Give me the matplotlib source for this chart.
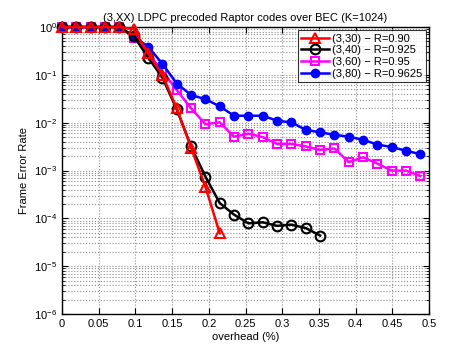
import numpy as np
import matplotlib
matplotlib.use('Agg')
import matplotlib.pyplot as plt
from matplotlib.ticker import LogLocator, NullFormatter

# overhead steps of 20 symbols over K=1024
step = 20 / 1024.0

fer_30 = [1, 1, 1, 1, 1, 0.9, 0.28, 0.1, 0.02, 0.003, 4.6e-4, 4.9e-5]
fer_40 = [1, 1, 1, 1, 1, 0.65, 0.23, 0.088, 0.019, 0.0032, 7.5e-4,
          2.1e-4, 1.2e-4, 7.9e-5, 8.3e-5, 7.0e-5, 7.4e-5, 6.3e-5, 4.4e-5]
fer_60 = [1, 1, 1, 1, 1, 0.6, 0.28, 0.12, 0.048, 0.020, 0.0093, 0.0102,
          0.0051, 0.0059, 0.0050, 0.0036, 0.0036, 0.0032, 0.0027, 0.0029,
          0.0015, 0.0019, 0.0014, 0.0010, 0.0010, 0.00077]
fer_80 = [1, 1, 1, 1, 1, 0.63, 0.39, 0.17, 0.066, 0.038, 0.031, 0.022,
          0.014, 0.014, 0.014, 0.011, 0.0102, 0.0071, 0.0063, 0.0056,
          0.0051, 0.0044, 0.0035, 0.0031, 0.0026, 0.0022]

labels = ['(3,30) \u2212 R=0.90', '(3,40) \u2212 R=0.925',
          '(3,60) \u2212 R=0.95', '(3,80) \u2212 R=0.9625']
xticks = np.arange(0, 0.5001, 0.05)
xticklabels = ['0', '0.05', '0.1', '0.15', '0.2', '0.25', '0.3', '0.35', '0.4', '0.45', '0.5']

plt.rcParams['font.family'] = 'Liberation Sans'
plt.rcParams['font.size'] = 8

fig = plt.figure(figsize=(4.74, 3.53), dpi=100)
ax = fig.add_axes([0.131, 0.110, 0.774, 0.8135])

def xs(vals):
    return np.arange(len(vals)) * step

ax.semilogy(xs(fer_30), fer_30, '-^', color='red', lw=1.8, ms=7,
            mfc='none', mew=1.5, label=labels[0], clip_on=False, zorder=5)
ax.semilogy(xs(fer_40), fer_40, '-o', color='black', lw=1.8, ms=7,
            mfc='none', mew=1.5, label=labels[1], clip_on=False, zorder=4)
ax.semilogy(xs(fer_60), fer_60, '-s', color='magenta', lw=1.8, ms=6,
            mfc='none', mew=1.5, label=labels[2], clip_on=False, zorder=3)
ax.semilogy(xs(fer_80), fer_80, '-o', color='blue', lw=1.8, ms=6,
            mfc='blue', mew=1, label=labels[3], clip_on=False, zorder=3.5)

ax.set_xlim(0, 0.5)
ax.set_ylim(1e-6, 1)
ax.set_xticks(xticks)
ax.set_xticklabels(xticklabels)
ax.yaxis.set_major_locator(LogLocator(base=10, numticks=10))
ax.yaxis.set_minor_locator(LogLocator(base=10, subs=np.arange(2, 10), numticks=20))
ax.yaxis.set_minor_formatter(NullFormatter())

ax.grid(True, which='major', linestyle=':', color='#909090', lw=0.8)
ax.grid(True, which='minor', axis='y', linestyle=':', color='#909090', lw=0.8)
ax.tick_params(which='both', direction='in', top=True, right=True)
ax.tick_params(which='major', length=4)
ax.tick_params(which='minor', length=2)
for s in ax.spines.values():
    s.set_linewidth(1.0)

ax.set_title('(3,XX) LDPC precoded Raptor codes over BEC (K=1024)', fontsize=8, pad=4)
ax.set_xlabel('overhead (%)', labelpad=2)
ax.set_ylabel('Frame Error Rate')

leg = ax.legend(loc='upper right', fontsize=8, fancybox=False, edgecolor='black',
                borderaxespad=0.3, handlelength=2.5, labelspacing=0.15,
                borderpad=0.3, handletextpad=0.3)
leg.get_frame().set_linewidth(0.8)
leg.set_zorder(10)

fig.savefig('out.png', dpi=100)
